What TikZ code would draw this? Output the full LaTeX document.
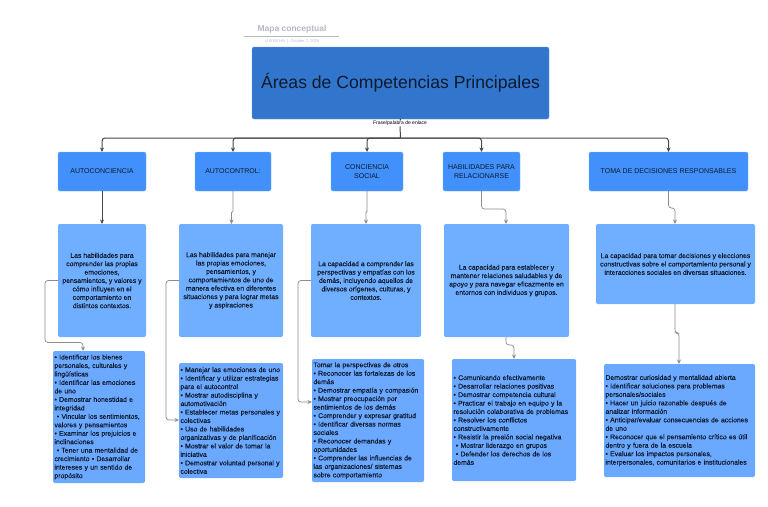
\documentclass[tikz,border=0pt]{standalone}
\usepackage{fontspec}
\setmainfont{Liberation Sans}
\newfontfamily\inkfont{Liberation Sans}[FakeBold=0.2]
\usetikzlibrary{arrows.meta}
\definecolor{mainblue}{HTML}{3176CC}
\definecolor{headblue}{HTML}{4190FB}
\definecolor{defblue}{HTML}{70AEFF}
\definecolor{listblue}{HTML}{6BA8FF}
\definecolor{inkdark}{HTML}{0E1A2E}
\definecolor{titlegrey}{HTML}{B4B9C4}
\tikzset{
	boxbase/.style={anchor=north west, rounded corners=2, inner xsep=1.5, inner ysep=0, outer sep=0, text=inkdark},
	mainbox/.style={boxbase, fill=mainblue, draw=mainblue!70!white, line width=0.4, align=center, font=\fontsize{17.6}{21}\selectfont},
	headbox/.style={boxbase, fill=headblue, draw=headblue!70!white, line width=0.4, align=center, font=\fontsize{7}{9.2}\selectfont},
	defbox/.style={boxbase, fill=defblue, align=center, font=\inkfont\fontsize{6.85}{8.4}\selectfont},
	listbox/.style={boxbase, fill=listblue, align=left, font=\inkfont\fontsize{6.85}{8.47}\selectfont},
	bigconn/.style={draw=black!72, line width=1, rounded corners=3, -{Stealth[length=4.5pt,width=4pt]}},
	softconn/.style={draw=black!45, line width=0.7, rounded corners=3, -{Stealth[length=4.5pt,width=4pt]}},
	jogconn/.style={softconn, rounded corners=0.7}
}
\begin{document}
\begin{tikzpicture}[x=1pt,y=-1pt]
	\useasboundingbox (0,0) rectangle (768,506);

	%%%%% TITLE %%%%%
	\node[text=titlegrey, font=\fontsize{8.5}{10}\bfseries\selectfont] (maptitle) at (292,29.5) {Mapa conceptual};
	\coordinate (rulea) at (244,36);
	\coordinate (ruleb) at (339,36);
	\draw[titlegrey, line width=0.7] (rulea) -- (ruleb);
	\node[text=titlegrey, font=\fontsize{4}{5}\selectfont] (mapsub) at (292,41) {LUXXN HN \ |\ \ October 2, 2025};

	%%%%% BOXES %%%%%
	\node[mainbox, minimum width=297, minimum height=72] (main) at (252,47) {Áreas de Competencias Principales};

	\node[headbox, minimum width=88, minimum height=39] (heada) at (58,152) {AUTOCONCIENCIA};
	\node[headbox, minimum width=76, minimum height=39] (headb) at (195,152) {AUTOCONTROL:};
	\node[headbox, minimum width=72, minimum height=39] (headc) at (331,152) {CONCIENCIA\\SOCIAL};
	\node[headbox, minimum width=77, minimum height=39] (headd) at (443,152) {HABILIDADES PARA\\RELACIONARSE};
	\node[headbox, minimum width=159, minimum height=39] (heade) at (589,152) {TOMA DE DECISIONES RESPONSABLES};

	\node[defbox, minimum width=88, minimum height=113] (defa) at (58,224) {Las habilidades para\\comprender las propias\\emociones,\\pensamientos, y valores y\\cómo influyen en el\\comportamiento en\\distintos contextos.};
	\node[defbox, minimum width=104, minimum height=113] (defb) at (179,224) {Las habilidades para manejar\\las propias emociones,\\pensamientos, y\\comportamientos de uno de\\manera efectiva en diferentes\\situaciones y para lograr metas\\y aspiraciones};
	\node[defbox, minimum width=110, minimum height=113] (defc) at (311,224) {La capacidad a comprender las\\perspectivas y empatías con los\\demás, incluyendo aquellos de\\diversos orígenes, culturas, y\\contextos.};
	\node[defbox, minimum width=125, minimum height=113] (defd) at (444,224) {La capacidad para establecer y\\mantener relaciones saludables y de\\apoyo y para navegar eficazmente en\\entornos con individuos y grupos.};
	\node[defbox, minimum width=159, minimum height=80] (defe) at (596,224) {La capacidad para tomar decisiones y elecciones\\constructivas sobre el comportamiento personal y\\interacciones sociales en diversas situaciones.};

	\node[listbox, minimum width=92, minimum height=132, text width=89] (lista) at (53,351) {• Identificar los bienes\\personales, culturales y\\lingüísticas\\• Identificar las emociones\\de uno\\• Demostrar honestidad e\\integridad\\\ • Vincular los sentimientos,\\valores y pensamientos\\• Examinar los prejuicios e\\inclinaciones\\\ • Tener una mentalidad de\\crecimiento • Desarrollar\\intereses y un sentido de\\propósito};
	\node[listbox, minimum width=104, minimum height=115, text width=101] (listb) at (179,363) {• Manejar las emociones de uno\\• Identificar y utilizar estrategias\\para el autocontrol\\• Mostrar autodisciplina y\\automotivación\\• Establecer metas personales y\\colectivas\\• Uso de habilidades\\organizativas y de planificación\\• Mostrar el valor de tomar la\\iniciativa\\• Demostrar voluntad personal y\\colectiva};
	\node[listbox, minimum width=112, minimum height=123, text width=109] (listc) at (312,359) {Tomar la perspectivas de otros\\• Reconocer las fortalezas de los\\demás\\• Demostrar empatía y compasión\\• Mostrar preocupación por\\sentimientos de los demás\\• Comprender y expresar gratitud\\• Identificar diversas normas\\sociales\\• Reconocer demandas y\\oportunidades\\• Comprender las influencias de\\las organizaciones/ sistemas\\sobre comportamiento};
	\node[listbox, minimum width=124, minimum height=122, text width=121] (listd) at (452,359) {• Comunicando efectivamente\\• Desarrollar relaciones positivas\\• Demostrar competencia cultural\\• Practicar el trabajo en equipo y la\\resolución colaborativa de problemas\\• Resolver los conflictos\\constructivamente\\• Resistir la presión social negativa\\\ • Mostrar liderazgo en grupos\\\ • Defender los derechos de los\\demás};
	\node[listbox, minimum width=151, minimum height=113, text width=148] (liste) at (604,364) {Demostrar curiosidad y mentalidad abierta\\• Identificar soluciones para problemas\\personales/sociales\\• Hacer un juicio razonable después de\\analizar información\\• Anticipar/evaluar consecuencias de acciones\\de uno\\• Reconocer que el pensamiento crítico es útil\\dentro y fuera de la escuela\\• Evaluar los impactos personales,\\interpersonales, comunitarios e institucionales};

	%%%%% LINKS %%%%%
	\coordinate (bus) at (main.south |- 0,138);
	\node[fill=white, inner sep=0.3, font=\fontsize{5}{5.5}\selectfont] (linkword) at (400,123.5) {Frase/palabra de enlace};
	\draw[bigconn, -] (main.south) -- (linkword.north);
	\draw[bigconn, -] (linkword.south) -- (bus);
	\draw[bigconn] (bus) -| (heada.north);
	\draw[bigconn] (bus) -| (headb.north);
	\draw[bigconn] (bus) -| (headc.north);
	\draw[bigconn] (bus) -| (headd.north);
	\draw[bigconn] (bus) -| (heade.north);

	\draw[bigconn] (heada.south) -- (heada.south |- defa.north);
	\coordinate (topb) at (231.5,224);
	\coordinate (topc) at (366,224);
	\coordinate (topd) at (506,224);
	\coordinate (tope) at (675,224);
	\draw[jogconn] (headb.south) -- ++(0,21) -| (topb);
	\draw[jogconn] (headc.south) -- ++(0,21) -| (topc);
	\draw[softconn] (headd.south) -- ++(0,18) -| (topd);
	\draw[softconn] (heade.south) -- ++(0,17) -| (tope);

	\coordinate (ina) at (83,351);
	\coordinate (inb) at (179,420);
	\coordinate (inc) at (312,402);
	\coordinate (ind) at (514,359);
	\coordinate (ine) at (679,364);
	\draw[softconn] (defa.west) -- ++(-13,0) |- ++(38,62) -- (ina);
	\draw[softconn] (defb.west) -- ++(-13,0) |- (inb);
	\draw[softconn] (defc.west) -- ++(-13,0) |- (inc);
	\draw[softconn] (defd.south -| topd) -- ++(0,8) -| (ind);
	\draw[softconn] (defe.south -| tope) -- ++(0,29) -| (ine);
\end{tikzpicture}
\end{document}
